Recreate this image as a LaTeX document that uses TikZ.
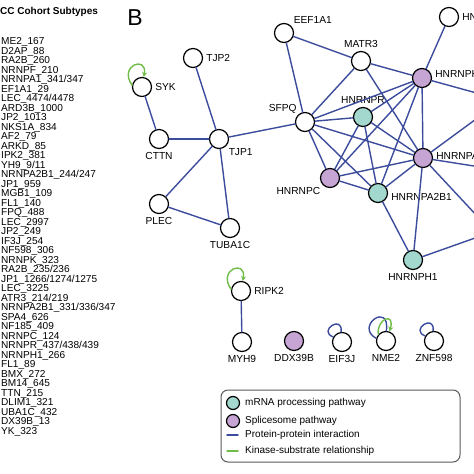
\documentclass[tikz,border=0pt]{standalone}
\usepackage{fontspec}
\setmainfont{Liberation Sans}
\usepackage{tikz}
\usetikzlibrary{arrows.meta}
\definecolor{edgeblue}{RGB}{60,76,156}
\definecolor{ksgreen}{RGB}{112,188,72}
\definecolor{mrnateal}{RGB}{162,216,206}
\definecolor{splpurple}{RGB}{198,164,212}

\begin{document}
\begin{tikzpicture}[x=1pt,y=-1pt,line cap=round,line join=round,
  gene/.style={circle,draw=black,line width=1.2pt,fill=white,minimum size=19pt,inner sep=0pt},
  mrna/.style={gene,fill=mrnateal},
  splice/.style={gene,fill=splpurple},
  ppi/.style={draw=edgeblue,line width=1.4pt},
  ksr/.style={draw=ksgreen,line width=1.4pt,-{Stealth[length=5pt,width=5pt]}},
  every label/.style={font=\fontsize{10.2}{12}\selectfont,inner sep=1pt},
  label distance=2pt,
  listitem/.style={anchor=west,inner sep=0pt,font=\fontsize{10.1}{11}\selectfont},
  legtext/.style={anchor=west,inner sep=0pt,font=\fontsize{10}{11}\selectfont}]
\useasboundingbox (0,0) rectangle (474,474);
\clip (0,0) rectangle (474,474);
\node[anchor=west,inner sep=0pt,font=\bfseries\fontsize{10}{11}\selectfont] (head) at (0,12) {CC Cohort Subtypes};
\node[listitem] (l1) at (1,42.0) {ME2\_167};
\node[listitem] (l2) at (1,51.5) {D2AP\_88};
\node[listitem] (l3) at (1,61.0) {RA2B\_260};
\node[listitem] (l4) at (1,70.5) {NRNPF\_210};
\node[listitem] (l5) at (1,80.0) {NRNPA1\_341/347};
\node[listitem] (l6) at (1,89.5) {EF1A1\_29};
\node[listitem] (l7) at (1,99.0) {LEC\_4474/4478};
\node[listitem] (l8) at (1,108.5) {ARD3B\_1000};
\node[listitem] (l9) at (1,118.0) {JP2\_1013};
\node[listitem] (l10) at (1,127.5) {NKS1A\_834};
\node[listitem] (l11) at (1,137.0) {AF2\_79};
\node[listitem] (l12) at (1,146.5) {ARKD\_85};
\node[listitem] (l13) at (1,156.0) {IPK2\_381};
\node[listitem] (l14) at (1,165.5) {YH9\_9/11};
\node[listitem] (l15) at (1,175.0) {NRNPA2B1\_244/247};
\node[listitem] (l16) at (1,184.5) {JP1\_959};
\node[listitem] (l17) at (1,194.0) {MGB1\_109};
\node[listitem] (l18) at (1,203.5) {FL1\_140};
\node[listitem] (l19) at (1,213.0) {FPQ\_488};
\node[listitem] (l20) at (1,222.5) {LEC\_2997};
\node[listitem] (l21) at (1,232.0) {JP2\_249};
\node[listitem] (l22) at (1,241.5) {IF3J\_254};
\node[listitem] (l23) at (1,251.0) {NF598\_306};
\node[listitem] (l24) at (1,260.5) {NRNPK\_323};
\node[listitem] (l25) at (1,270.0) {RA2B\_235/236};
\node[listitem] (l26) at (1,279.5) {JP1\_1266/1274/1275};
\node[listitem] (l27) at (1,289.0) {LEC\_3225};
\node[listitem] (l28) at (1,298.5) {ATR3\_214/219};
\node[listitem] (l29) at (1,308.0) {NRNPA2B1\_331/336/347};
\node[listitem] (l30) at (1,317.5) {SPA4\_626};
\node[listitem] (l31) at (1,327.0) {NF185\_409};
\node[listitem] (l32) at (1,336.5) {NRNPC\_124};
\node[listitem] (l33) at (1,346.0) {NRNPR\_437/438/439};
\node[listitem] (l34) at (1,355.5) {NRNPH1\_266};
\node[listitem] (l35) at (1,365.0) {FL1\_89};
\node[listitem] (l36) at (1,374.5) {BMX\_272};
\node[listitem] (l37) at (1,384.0) {BM14\_645};
\node[listitem] (l38) at (1,393.5) {TTN\_215};
\node[listitem] (l39) at (1,403.0) {DLIM1\_321};
\node[listitem] (l40) at (1,412.5) {UBA1C\_432};
\node[listitem] (l41) at (1,422.0) {DX39B\_13};
\node[listitem] (l42) at (1,431.5) {YK\_323};
\node[inner sep=0pt,font=\fontsize{23}{23}\selectfont] (panel) at (135,18) {B};
\node[gene,label=right:SYK] (syk) at (142,87) {};
\node[gene,label=right:TJP2] (tjp2) at (193,58) {};
\node[gene,label=below:CTTN] (cttn) at (159,139) {};
\node[gene,label=below right:TJP1] (tjp1) at (219,139) {};
\node[gene,label=below:PLEC] (plec) at (159,204) {};
\node[gene,label=below:TUBA1C] (tuba1c) at (230,228) {};
\node[gene,label={[label distance=0pt]above left:SFPQ}] (sfpq) at (305,122) {};
\node[gene,label=above right:EEF1A1] (eef1a1) at (284,33) {};
\node[gene,label=above:MATR3] (matr3) at (361,61) {};
\node[gene,label=right:HNRNPF] (hnrnpf) at (449,17) {};
\node[splice,label={[yshift=4pt]right:HNRNPK}] (hnrnpk) at (422,78) {};
\node[mrna,label=above:HNRNPR] (hnrnpr) at (363,117) {};
\node[splice,label={[yshift=2pt]right:HNRNPA1}] (hnrnpa1) at (423,158) {};
\node[splice,label=below left:HNRNPC] (hnrnpc) at (330,178) {};
\node[mrna,label={[yshift=-4pt]right:HNRNPA2B1}] (hnrnpa2b1) at (378,193) {};
\node[mrna,label=below:HNRNPH1] (hnrnph1) at (413,260) {};
\node[gene,label=right:RIPK2] (ripk2) at (241,291) {};
\node[gene,label=below:MYH9] (myh9) at (242,342) {};
\node[splice,label=below:DDX39B] (ddx39b) at (294,341) {};
\node[gene,label=below:EIF3J] (eif3j) at (342,342) {};
\node[gene,label=below:NME2] (nme2) at (386,341) {};
\node[gene,label=below:ZNF598] (znf598) at (434,341) {};
\coordinate (outa) at (502,100);
\coordinate (outb) at (512,172);
\coordinate (outc) at (492,232);
\draw[ppi] (syk) -- (cttn);
\draw[ppi] (cttn) -- (tjp1);
\draw[ppi] (tjp2) -- (tjp1);
\draw[ppi] (tjp1) -- (sfpq);
\draw[ppi] (tjp1) -- (plec);
\draw[ppi] (tjp1) -- (tuba1c);
\draw[ppi] (plec) -- (tuba1c);
\draw[ppi] (ripk2) -- (myh9);
\draw[ppi] (eef1a1) -- (matr3);
\draw[ppi] (eef1a1) -- (sfpq);
\draw[ppi] (matr3) -- (sfpq);
\draw[ppi] (matr3) -- (hnrnpk);
\draw[ppi] (matr3) -- (hnrnpa1);
\draw[ppi] (sfpq) -- (hnrnpk);
\draw[ppi] (sfpq) -- (hnrnpr);
\draw[ppi] (sfpq) -- (hnrnpa1);
\draw[ppi] (sfpq) -- (hnrnpc);
\draw[ppi] (sfpq) -- (hnrnpa2b1);
\draw[ppi] (hnrnpr) -- (hnrnpk);
\draw[ppi] (hnrnpr) -- (hnrnpc);
\draw[ppi] (hnrnpr) -- (hnrnpa2b1);
\draw[ppi] (hnrnpr) -- (hnrnpa1);
\draw[ppi] (hnrnpc) -- (hnrnpk);
\draw[ppi] (hnrnpc) -- (hnrnpa1);
\draw[ppi] (hnrnpc) -- (hnrnpa2b1);
\draw[ppi] (hnrnpa2b1) -- (hnrnpk);
\draw[ppi] (hnrnpa2b1) -- (hnrnpa1);
\draw[ppi] (hnrnpa2b1) -- (hnrnph1);
\draw[ppi] (hnrnpk) -- (hnrnpa1);
\draw[ppi] (hnrnpk) -- (hnrnpf);
\draw[ppi] (hnrnpk) -- (outa);
\draw[ppi] (hnrnpa1) -- (hnrnph1);
\draw[ppi] (hnrnpa1) -- (outa);
\draw[ppi] (hnrnpa1) -- (outb);
\draw[ppi] (hnrnpa1) -- (outc);
\draw[ppi] (hnrnph1) -- (outc);
\draw[ksr] (syk.170) .. controls +(-14,-20) and +(4,-22) .. (syk.80);
\draw[ksr] (ripk2.170) .. controls +(-14,-20) and +(4,-22) .. (ripk2.80);
\draw[ppi] (eif3j.150) .. controls +(-16,-6) and +(2,-18) .. (eif3j.95);
\draw[ppi] (nme2.165) .. controls +(-22,-12) and +(4,-30) .. (nme2.88);
\draw[ksr] (nme2.140) .. controls +(-2,-16) and +(6,-20) .. (nme2.70);
\draw[ppi] (znf598.150) .. controls +(-16,-6) and +(2,-18) .. (znf598.95);
\draw[draw=black!65,line width=1pt,rounded corners=7pt] (221,390) rectangle (460,462);
\node[mrna,minimum size=13pt] (legm) at (233,403) {};
\node[legtext] (legmt) at (245,403) {mRNA processing pathway};
\node[splice,minimum size=13pt] (legs) at (233,421) {};
\node[legtext] (legst) at (245,421) {Splicesome pathway};
\coordinate (legpa) at (227,435);
\coordinate (legpb) at (238,435);
\draw[ppi] (legpa) -- (legpb);
\node[legtext] (legpt) at (245,435) {Protein-protein interaction};
\coordinate (legka) at (227,451);
\coordinate (legkb) at (238,451);
\draw[draw=ksgreen,line width=1.4pt] (legka) -- (legkb);
\node[legtext] (legkt) at (245,451) {Kinase-substrate relationship};
\end{tikzpicture}
\end{document}
